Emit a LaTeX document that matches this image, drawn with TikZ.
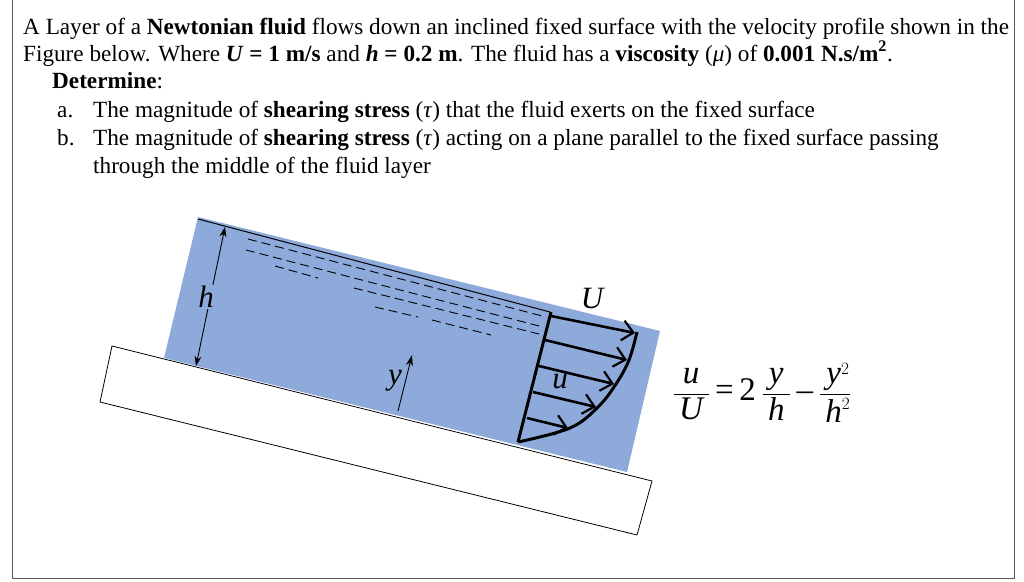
\documentclass[tikz,border=0pt]{standalone}
\usepackage{amsmath}
\usepackage{fontspec}
\setmainfont{Liberation Serif}
\usetikzlibrary{arrows.meta}
\begin{document}
\begin{tikzpicture}[x=1pt,y=-1pt,
  txt/.style={anchor=base west,inner sep=0,font=\fontsize{23.2}{26}\selectfont},
  lab/.style={inner sep=0,font=\fontsize{31}{33}\selectfont\itshape},
  dsh/.style={dash pattern=on 9pt off 5pt,line width=0.9pt},
  vel/.style={line width=2.6pt,-{Straight Barb[length=11pt,width=20pt,line width=2.2pt]}}]
\useasboundingbox (0,0) rectangle (1024,581);
\draw[gray!70!black,line width=0.8pt] (12,-2) -- (12,578) -- (1014,578) -- (1014,-2);
\node[txt] (l1) at (23,34) {A Layer of a \textbf{Newtonian fluid} flows down an inclined fixed surface with the velocity profile shown in the};
\node[txt] (l2) at (23,61) {Figure below. Where \textbf{\textit{U} = 1 m/s} and \textbf{\textit{h} = 0.2 m}. The fluid has a \textbf{viscosity} (\textit{μ}) of \textbf{0.001 N.s/m\textsuperscript{2}}.};
\node[txt] (l3) at (52,88) {\textbf{Determine}:};
\node[txt] (a1) at (57,117) {a.};
\node[txt] (a2) at (93,117) {The magnitude of \textbf{shearing stress} (\textit{τ}) that the fluid exerts on the fixed surface};
\node[txt] (b1) at (57,145) {b.};
\node[txt] (b2) at (93,145) {The magnitude of \textbf{shearing stress} (\textit{τ}) acting on a plane parallel to the fixed surface passing};
\node[txt] (b3) at (93,173) {through the middle of the fluid layer};
% fluid
\fill[fill={rgb,255:red,142;green,170;blue,218}] (198,217) -- (660,331) -- (627,472) -- (164,358) -- cycle;
% plate
\draw[fill=white,line width=0.8pt] (112,346) -- (652,481) -- (637,535) -- (100,402) -- cycle;
\coordinate (s1) at (198,219); \coordinate (s2) at (550,312);
\draw[line width=1pt] (s1) -- (s2);
% dashes
\draw[dsh] (248,239) -- (546,317);
\draw[dsh] (246,250) -- (543,327);
\draw[dsh] (275,266) -- (318,278);
\draw[dsh] (354,288) -- (539,334);
\draw[dsh] (375,307) -- (418,317);
\draw[dsh] (432,320) -- (491,335);
% h
\coordinate (h1) at (225,227); \coordinate (h2) at (196,366);
\draw[{Stealth[length=10pt,width=7pt]}-{Stealth[length=10pt,width=7pt]},line width=0.9pt] (h1) -- (h2);
\node[lab,fill={rgb,255:red,142;green,170;blue,218},inner sep=1pt] (hl) at (206,297) {h};
% y
\coordinate (y1) at (398,411); \coordinate (y2) at (412,355);
\draw[-{Stealth[length=11pt,width=7pt]},line width=0.9pt] (y1) -- (y2);
\node[lab] (yl) at (395,381) {y};
% profile
\coordinate (p0) at (551,312); \coordinate (p1) at (518,442);
\draw[line width=3pt] (p0) -- (p1);
\draw[line width=3pt] plot[smooth,tension=0.6] coordinates {(637,332) (629,360) (616,384) (598,407) (570,428) (518,442)};
\coordinate (a1s) at (551,316); \coordinate (a1e) at (635,333);
\coordinate (a2s) at (545,340); \coordinate (a2e) at (627,360);
\coordinate (a3s) at (539,366); \coordinate (a3e) at (614,384);
\coordinate (a4s) at (533,392); \coordinate (a4e) at (596,407);
\coordinate (a5s) at (527,418); \coordinate (a5e) at (568,428);
\foreach \i in {1,...,5} \draw[vel] (a\i s) -- (a\i e);
\node[lab] (Ul) at (592,298) {U};
\node[lab] (ul) at (560,382) {u};
% formula
\node[inner sep=0,font=\fontsize{33}{36}\selectfont] (eq) at (762,393)
 {$\dfrac{\textit{\,u\,}}{\textit{\,U\,}}\text{\,=\,2\,}\dfrac{\textit{\,y\,}}{\textit{\,h\,}}\text{\,–\,}\dfrac{\textit{\,y}^{\scriptscriptstyle 2}}{\textit{\,h}^{\scriptscriptstyle 2}}$};
\end{tikzpicture}
\end{document}
